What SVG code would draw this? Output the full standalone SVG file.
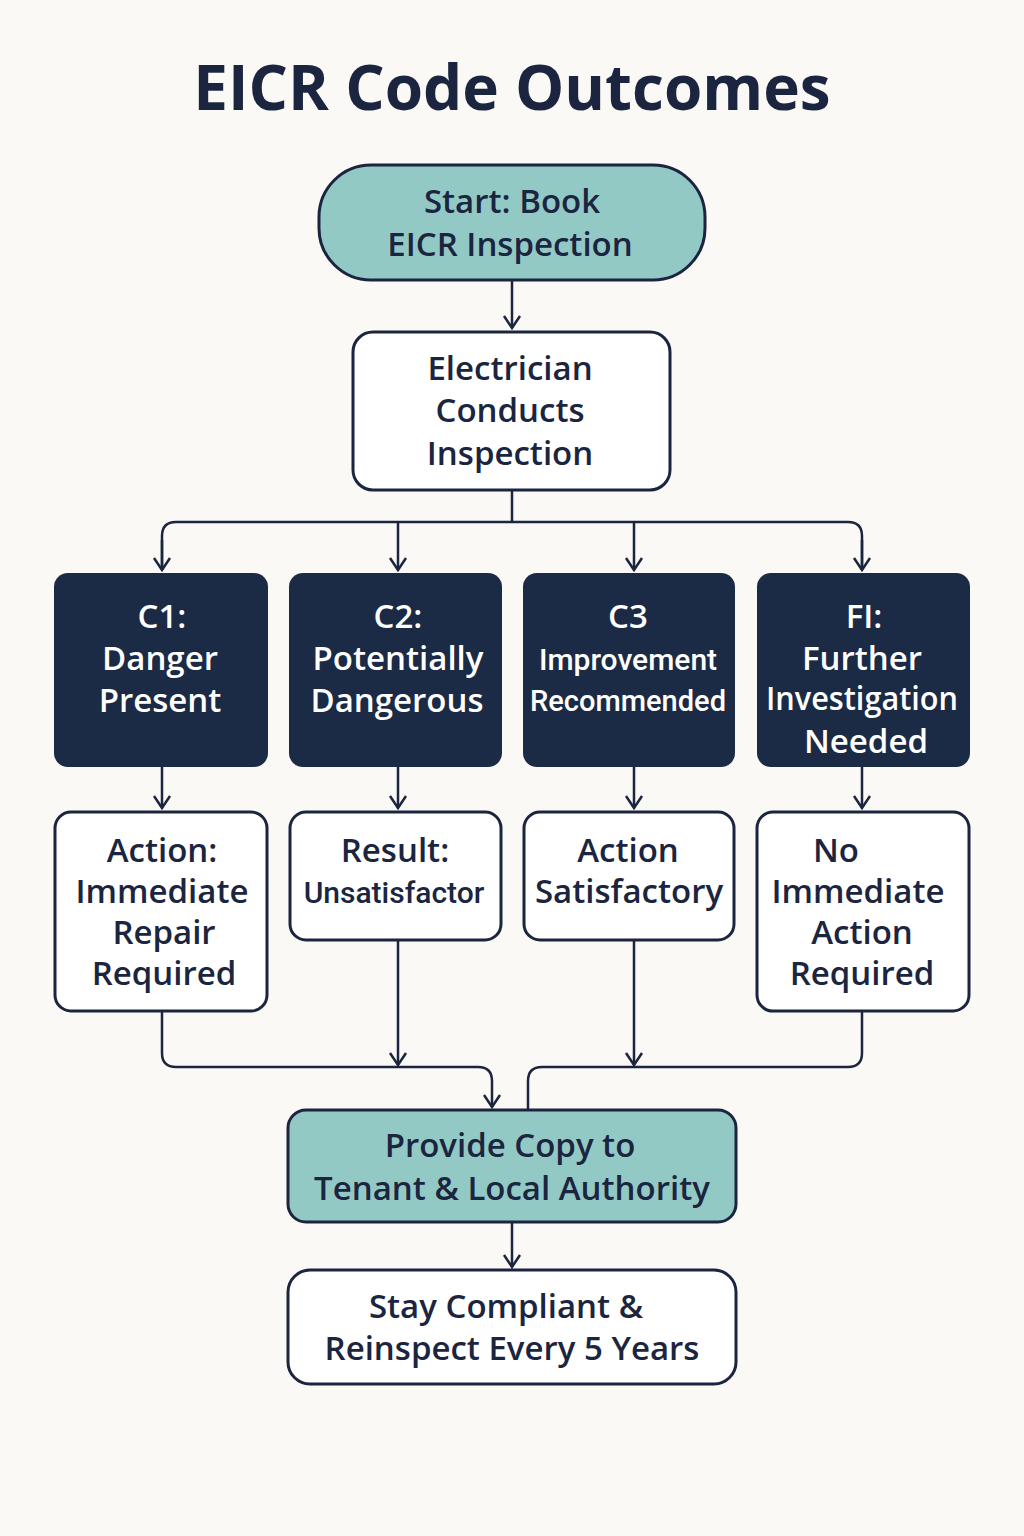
<svg xmlns="http://www.w3.org/2000/svg" width="1024" height="1536" viewBox="0 0 1024 1536">
<defs>
<marker id="ah" viewBox="0 0 20 20" refX="17" refY="10" markerWidth="20" markerHeight="20" markerUnits="userSpaceOnUse" orient="auto">
<path d="M5 2 L17 10 L5 18" fill="none" stroke="#1B2540" stroke-width="2.5"/>
</marker>
<style>
.t{font-family:"Open Sans","Liberation Sans",sans-serif;font-weight:600;text-anchor:middle;fill:#1B2540;font-size:33px}
.w{fill:#fff}
.c{font-size:30px;font-family:"Roboto","Liberation Sans",sans-serif;font-weight:500}
.box{fill:#fff;stroke:#1B2540;stroke-width:3}
.teal{fill:#93C9C5;stroke:#1B2540;stroke-width:3}
.dark{fill:#1B2A45}
.ln{fill:none;stroke:#1B2540;stroke-width:2.5}
</style>
</defs>
<rect width="1024" height="1536" fill="#FBF9F5"/>
<text x="512" y="110" class="t" style="font-size:62px;font-weight:700">EICR Code Outcomes</text>
<g id="connectors">
<path class="ln" d="M512 280 V328" marker-end="url(#ah)"/>
<path class="ln" d="M512 490 V522 M162 570 V536 Q162 522 176 522 H848 Q862 522 862 536 V570" />
<path class="ln" d="M162 540 V570" marker-end="url(#ah)"/>
<path class="ln" d="M398 522 V570" marker-end="url(#ah)"/>
<path class="ln" d="M634 522 V570" marker-end="url(#ah)"/>
<path class="ln" d="M862 540 V570" marker-end="url(#ah)"/>
<path class="ln" d="M162 767 V808" marker-end="url(#ah)"/>
<path class="ln" d="M398 767 V808" marker-end="url(#ah)"/>
<path class="ln" d="M634 767 V808" marker-end="url(#ah)"/>
<path class="ln" d="M862 767 V808" marker-end="url(#ah)"/>
<path class="ln" d="M162 1011 V1053 Q162 1067 176 1067 H478 Q492 1067 492 1081 V1107" marker-end="url(#ah)"/>
<path class="ln" d="M398 940 V1065" marker-end="url(#ah)"/>
<path class="ln" d="M634 940 V1065" marker-end="url(#ah)"/>
<path class="ln" d="M862 1011 V1053 Q862 1067 848 1067 H542 Q528 1067 528 1081 V1110"/>
<path class="ln" d="M512 1222 V1267" marker-end="url(#ah)"/>
</g>
<g id="start"><rect class="teal" x="319" y="165" width="386" height="115" rx="52"/><text class="t" x="512" y="213">Start: Book</text><text class="t" x="510" y="256">EICR Inspection</text></g>
<g id="inspect"><rect class="box" x="353" y="332" width="317" height="158" rx="20"/><text class="t" x="510" y="380">Electrician</text><text class="t" x="510" y="422">Conducts</text><text class="t" x="510" y="465">Inspection</text></g>
<g id="c1"><rect class="dark" x="54" y="573" width="214" height="194" rx="14"/><text class="t w" x="162" y="628">C1:</text><text class="t w" x="160" y="670">Danger</text><text class="t w" x="160" y="712">Present</text></g>
<g id="c2"><rect class="dark" x="289" y="573" width="213" height="194" rx="14"/><text class="t w" x="398" y="628">C2:</text><text class="t w" x="398" y="670">Potentially</text><text class="t w" x="397" y="712">Dangerous</text></g>
<g id="c3"><rect class="dark" x="523" y="573" width="212" height="194" rx="14"/><text class="t w" x="628" y="628">C3</text><text class="t w c" x="628" y="670">Improvement</text><text class="t w c" x="628" y="711" textLength="196" lengthAdjust="spacingAndGlyphs">Recommended</text></g>
<g id="fi"><rect class="dark" x="757" y="573" width="213" height="194" rx="14"/><text class="t w" x="864" y="628">FI:</text><text class="t w" x="862" y="670">Further</text><text class="t w" x="862" y="710" textLength="192" lengthAdjust="spacingAndGlyphs">Investigation</text><text class="t w" x="866" y="753">Needed</text></g>
<g id="r1"><rect class="box" x="55" y="812" width="212" height="199" rx="16"/><text class="t" x="162" y="862">Action:</text><text class="t" x="162" y="903">Immediate</text><text class="t" x="164" y="944">Repair</text><text class="t" x="164" y="985">Required</text></g>
<g id="r2"><rect class="box" x="290" y="812" width="211" height="128" rx="16"/><text class="t" x="395" y="862">Result:</text><text class="t c" x="394" y="903">Unsatisfactor</text></g>
<g id="r3"><rect class="box" x="524" y="812" width="210" height="128" rx="16"/><text class="t" x="628" y="862">Action</text><text class="t" x="629" y="903">Satisfactory</text></g>
<g id="r4"><rect class="box" x="757" y="812" width="212" height="199" rx="16"/><text class="t" x="836" y="862">No</text><text class="t" x="858" y="903">Immediate</text><text class="t" x="862" y="944">Action</text><text class="t" x="862" y="985">Required</text></g>
<g id="provide"><rect class="teal" x="288" y="1110" width="448" height="112" rx="18"/><text class="t" x="510" y="1157">Provide Copy to</text><text class="t" x="512" y="1200">Tenant &amp; Local Authority</text></g>
<g id="stay"><rect class="box" x="288" y="1270" width="448" height="114" rx="22"/><text class="t" x="506" y="1318">Stay Compliant &amp;</text><text class="t" x="512" y="1360">Reinspect Every 5 Years</text></g>
</svg>
